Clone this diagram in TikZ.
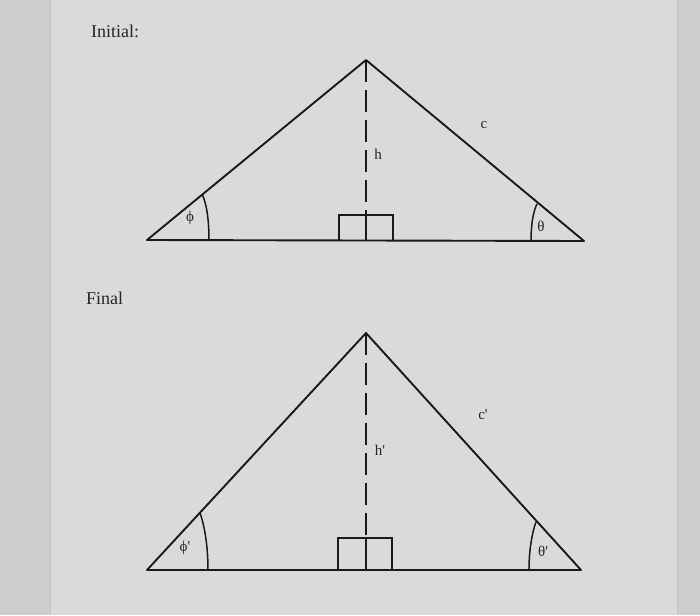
\documentclass[tikz,border=0pt]{standalone}
\usepackage{fontspec}
\setmainfont{Liberation Serif}[Ligatures=TeXOff]
\begin{document}
\begin{tikzpicture}[x=1pt,y=-1pt,
  edge/.style={line width=1.9pt,draw=black!90,line cap=round,line join=round},
  thin edge/.style={line width=1.5pt,draw=black!90},
  heightline/.style={line width=1.9pt,draw=black!90,dash pattern=on 22pt off 8pt},
  lab/.style={font=\fontsize{15}{17}\selectfont,text=black!85,inner sep=0pt},
  head/.style={font=\fontsize{18}{21}\selectfont,text=black!85,inner sep=0pt,anchor=west}]
\definecolor{pagebg}{HTML}{DCDAD9}
\definecolor{marginbg}{HTML}{CFCECD}
\useasboundingbox (0,0) rectangle (700,615);
\fill[marginbg] (0,0) rectangle (700,615);
\fill[pagebg] (50,0) rectangle (677,615);
\draw[black!25,line width=0.8pt] (50,0) -- (50,615);
\draw[black!25,line width=0.8pt] (677,0) -- (677,615);

\node[head] (initial) at (91,31) {Initial:};
\node[head] (final) at (86,298) {Final};

% top triangle
\coordinate (A) at (147,240);
\coordinate (B) at (366,60);
\coordinate (C) at (584,241);
\coordinate (F) at (366,240);
\draw[edge] (A) -- (B) -- (C) -- cycle;
\draw[heightline] (B) -- (F);
\draw[thin edge] (339,240) -- (339,215) -- (393,215) -- (393,240);
\draw[thin edge] (366,215) -- (F);
\draw[thin edge] (209,240) .. controls (209,222) and (207,204) .. (202,194);
\draw[thin edge] (531,241) .. controls (531,225) and (533,212) .. (537,204);
\node[lab] (phi) at (190,218) {ϕ};
\node[lab] (theta) at (541,226) {θ};
\node[lab] (c) at (484,125) {c};
\node[lab] (h) at (378,154) {h};

% bottom triangle
\coordinate (A2) at (147,570);
\coordinate (B2) at (366,333);
\coordinate (C2) at (581,570);
\coordinate (F2) at (366,570);
\draw[edge] (A2) -- (B2) -- (C2) -- cycle;
\draw[heightline] (B2) -- (F2);
\draw[thin edge] (338,570) -- (338,538) -- (392,538) -- (392,570);
\draw[thin edge] (366,538) -- (F2);
\draw[thin edge] (208,570) .. controls (208,548) and (205,527) .. (200,513);
\draw[thin edge] (529,570) .. controls (529,550) and (532,533) .. (536,522);
\node[lab] (phi2) at (185,548) {ϕ'};
\node[lab] (theta2) at (543,551) {θ'};
\node[lab] (c2) at (483,415) {c'};
\node[lab] (h2) at (380,450) {h'};
\end{tikzpicture}
\end{document}
